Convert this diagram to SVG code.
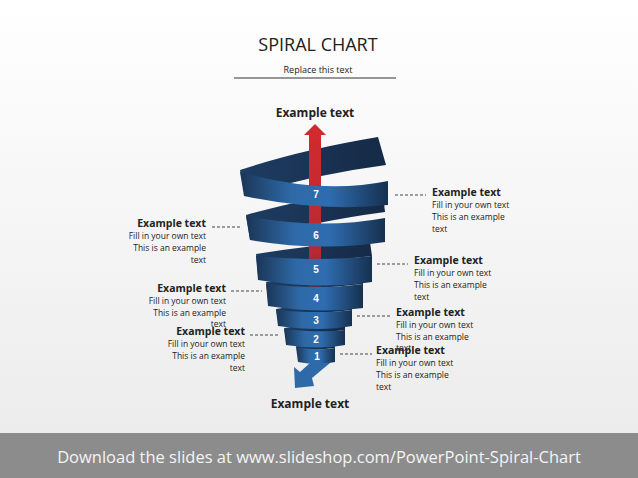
<svg xmlns="http://www.w3.org/2000/svg" width="638" height="478" viewBox="0 0 638 478">
<defs>
<linearGradient id="bg" x1="0" y1="0" x2="0" y2="1"><stop offset="0" stop-color="#ffffff"/><stop offset="1" stop-color="#ececec"/></linearGradient>
<linearGradient id="band" x1="0" y1="0" x2="1" y2="0"><stop offset="0" stop-color="#1b3556"/><stop offset="0.35" stop-color="#2e6aa8"/><stop offset="0.6" stop-color="#2f6db0"/><stop offset="1" stop-color="#16304f"/></linearGradient>
<linearGradient id="back" x1="0" y1="0" x2="1" y2="0"><stop offset="0" stop-color="#1e3d63"/><stop offset="1" stop-color="#152a45"/></linearGradient>
<linearGradient id="red" x1="0" y1="0" x2="0" y2="1"><stop offset="0" stop-color="#d02a2e"/><stop offset="0.7" stop-color="#b82a30"/><stop offset="1" stop-color="#b82a30" stop-opacity="0"/></linearGradient>
<style>
.t{font-family:"Open Sans","Liberation Sans",sans-serif;fill:#222}
.b{font-weight:bold;font-size:10.5px}
.s{font-size:8.5px}
.n{font-family:"Liberation Sans",sans-serif;font-size:10px;font-weight:bold;fill:#fff;text-anchor:middle}
.d{stroke:#444;stroke-width:1;stroke-dasharray:3,2;fill:none}
.r{text-anchor:end}
</style>
</defs>
<rect width="638" height="433" fill="url(#bg)"/>
<rect y="433" width="638" height="45" fill="#8c8c8c"/>
<text x="319" y="463" text-anchor="middle" font-family="Open Sans,Liberation Sans,sans-serif" font-size="16.5" fill="#f4f4f4">Download the slides at www.slideshop.com/PowerPoint-Spiral-Chart</text>
<text x="318" y="51" text-anchor="middle" class="t" font-size="18">SPIRAL CHART</text>
<text x="318" y="73" text-anchor="middle" class="t" font-size="9">Replace this text</text>
<line x1="234" y1="78" x2="396" y2="78" stroke="#333" stroke-width="1"/>
<text x="315" y="117" text-anchor="middle" class="t" font-weight="bold" font-size="12">Example text</text>
<text x="310" y="408" text-anchor="middle" class="t" font-weight="bold" font-size="12">Example text</text>
<g id="backs" fill="url(#back)">
<path d="M240 170 Q300 150 378 137 L386 165 Q310 175 245 196 Z"/>
<path d="M246 215 Q300 200 382 185 L385 212 Q310 222 250 240 Z"/>
<path d="M256 254 Q310 245 370 242 L372 256 Q310 262 258 275 Z"/>
<path d="M266 282 Q310 275 362 272 L363 284 Q310 288 268 300 Z"/>
<path d="M276 309 Q310 303 351 300 L352 310 Q310 314 278 320 Z"/>
<path d="M284 328 Q315 323 345 320 L345 330 Q315 333 286 338 Z"/>
<path d="M296 346 Q315 342 334 340 L335 348 Q315 350 298 352 Z"/>
</g>
<g id="arrow"><rect x="309" y="134" width="12" height="170" fill="url(#red)"/><polygon points="315,124 304,135 326,135" fill="#d02a2e"/></g>
<g id="bands" fill="url(#band)">
<path id="b7" d="M240 172 Q320 195 388 181 L388 205 Q320 212 244 196 Z"/>
<path id="b6" d="M246 216 Q320 230 385 218 L385 242 Q320 252 250 240 Z"/>
<path id="b5" d="M256 256 Q320 262 372 256 L372 282 Q320 290 258 280 Z"/>
<path id="b4" d="M266 284 Q320 290 363 284 L363 308 Q320 314 268 306 Z"/>
<path id="b3" d="M276 310 Q320 314 352 310 L352 326 Q320 332 278 326 Z"/>
<path id="b2" d="M284 329 Q320 333 345 330 L345 345 Q320 350 286 345 Z"/>
<path id="b1" d="M296 347 Q318 351 335 348 L335 362 Q318 366 298 362 Z"/>
<path id="tail" d="M310 363 L330 363 L312 378 L314 386 L295 388 L294 367 L300 372 Z" fill="#2e6aa8"/>
</g>
<g id="nums">
<text class="n" x="316" y="198">7</text><text class="n" x="316" y="239">6</text><text class="n" x="316" y="273">5</text><text class="n" x="316" y="302">4</text><text class="n" x="316" y="324">3</text><text class="n" x="316" y="343">2</text><text class="n" x="317" y="360">1</text>
</g>
<g id="connectors">
<line class="d" x1="395" y1="195" x2="426" y2="195"/>
<line class="d" x1="212" y1="227" x2="240" y2="227"/>
<line class="d" x1="377" y1="264" x2="408" y2="264"/>
<line class="d" x1="231" y1="291" x2="262" y2="291"/>
<line class="d" x1="357" y1="316" x2="390" y2="316"/>
<line class="d" x1="250" y1="335" x2="280" y2="335"/>
<line class="d" x1="340" y1="354" x2="372" y2="354"/>
</g>
<g id="c1"><text class="t b" x="432" y="196">Example text</text><text class="t s" x="432" y="208">Fill in your own text</text><text class="t s" x="432" y="220">This is an example</text><text class="t s" x="432" y="232">text</text></g>
<g id="c2"><text class="t b r" x="206" y="227">Example text</text><text class="t s r" x="206" y="239">Fill in your own text</text><text class="t s r" x="206" y="251">This is an example</text><text class="t s r" x="206" y="263">text</text></g>
<g id="c3"><text class="t b" x="414" y="264">Example text</text><text class="t s" x="414" y="276">Fill in your own text</text><text class="t s" x="414" y="288">This is an example</text><text class="t s" x="414" y="300">text</text></g>
<g id="c4"><text class="t b r" x="226" y="292">Example text</text><text class="t s r" x="226" y="304">Fill in your own text</text><text class="t s r" x="226" y="316">This is an example</text><text class="t s r" x="226" y="327">text</text></g>
<g id="c5"><text class="t b" x="396" y="316">Example text</text><text class="t s" x="396" y="328">Fill in your own text</text><text class="t s" x="396" y="340">This is an example</text><text class="t s" x="396" y="351">text</text></g>
<g id="c6"><text class="t b r" x="245" y="335">Example text</text><text class="t s r" x="245" y="347">Fill in your own text</text><text class="t s r" x="245" y="359">This is an example</text><text class="t s r" x="245" y="371">text</text></g>
<g id="c7"><text class="t b" x="376" y="354">Example text</text><text class="t s" x="376" y="366">Fill in your own text</text><text class="t s" x="376" y="378">This is an example</text><text class="t s" x="376" y="390">text</text></g>
</svg>
